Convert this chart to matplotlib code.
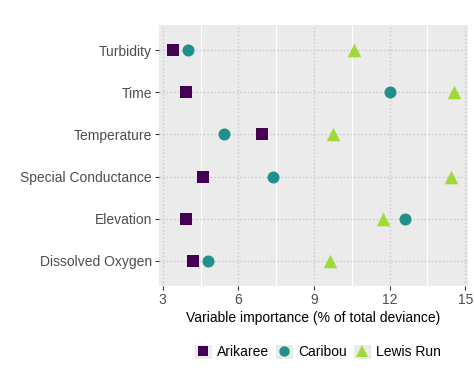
import matplotlib
matplotlib.use('Agg')
import matplotlib.pyplot as plt
from matplotlib.lines import Line2D
from matplotlib.patches import Patch
from matplotlib.legend_handler import HandlerTuple

plt.rcParams['font.family'] = ['Liberation Sans', 'DejaVu Sans']

variables = ['Turbidity', 'Time', 'Temperature', 'Special Conductance',
             'Elevation', 'Dissolved Oxygen']
arikaree = [3.41, 3.94, 6.94, 4.61, 3.91, 4.20]
caribou = [4.00, 12.00, 5.41, 7.39, 12.62, 4.80]
lewis_run = [10.59, 14.55, 9.76, 14.44, 11.72, 9.65]

sites = [['Arikaree', arikaree, 's', '#440154'],
         ['Caribou', caribou, 'o', '#21908C'],
         ['Lewis Run', lewis_run, '^', '#A0DA39']]

fig = plt.figure(figsize=(4.74, 3.72), dpi=100)
ax = fig.add_axes([159/474, 1-286/372, 309/474, 261/372])
ax.set_facecolor('#EBEBEB')

ypos = list(range(len(variables), 0, -1))
sizes = {'s': 70, 'o': 75, '^': 95}
handles = []
for name, vals, mk, col in sites:
    ax.scatter(vals, ypos, marker=mk, s=sizes[mk], color=col, label=name,
               zorder=3, linewidths=0)
    key = Patch(facecolor='#EBEBEB', edgecolor='none')
    mark = Line2D([], [], marker=mk, color=col, linestyle='none',
                  markersize=7.5 if mk != '^' else 8.5, markeredgewidth=0)
    handles.append((key, mark))

ax.set_xlim(2.85, 15.11)
ax.set_ylim(0.4, 6.6)
ax.set_xticks([3, 6, 9, 12, 15])
ax.set_xticks([4.5, 7.5, 10.5, 13.5], minor=True)
ax.set_yticks(ypos)
ax.set_yticklabels(variables)
ax.grid(which='major', color='#C8C8C8', linestyle=':', linewidth=1.0, zorder=1)
ax.grid(which='minor', axis='x', color='white', linestyle='-', linewidth=0.8, zorder=1)
ax.set_axisbelow(True)
for s in ax.spines.values():
    s.set_visible(False)
ax.tick_params(which='major', length=3, color='#333333', labelcolor='#4D4D4D',
               labelsize=10, pad=2)
ax.tick_params(which='minor', length=0)
ax.set_xlabel('Variable importance (% of total deviance)', fontsize=10,
              color='black', labelpad=3)

fig.legend(handles, [s[0] for s in sites], loc='center',
           bbox_to_anchor=(318/474, 1-352/372), ncol=3,
           frameon=False, fontsize=10, handletextpad=0.4,
           columnspacing=0.5, borderpad=0, handlelength=1.2, handleheight=1.2,
           handler_map={tuple: HandlerTuple(ndivide=1)})

fig.savefig('out.png', dpi=100)
